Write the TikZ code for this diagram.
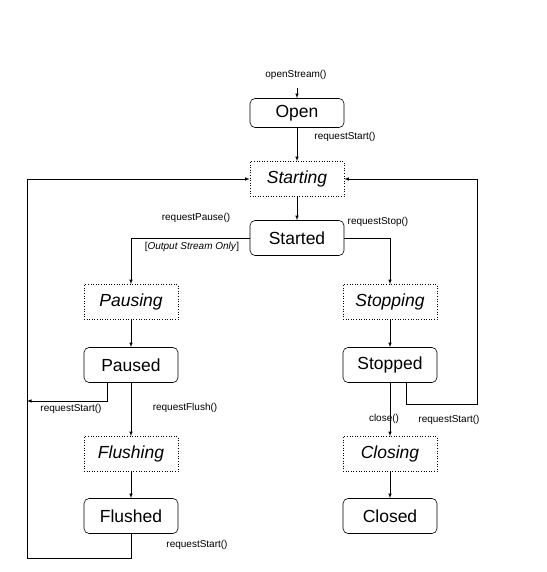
\documentclass[tikz,border=0pt]{standalone}
\usepackage{fontspec}
\setmainfont{Liberation Sans}
\begin{document}
\begin{tikzpicture}[>=latex, x=1pt, y=-1pt, line width=0.6pt]
    \useasboundingbox (0, 0) rectangle (546, 572);

    \tikzstyle{state} = [draw, rounded corners = 5pt, minimum width = 94pt, minimum height = 35pt, inner sep = 0pt, font = \fontsize{17.5}{20}\selectfont]
    \tikzstyle{trans} = [state, dotted, rounded corners = 0pt, font = \fontsize{17.5}{20}\selectfont\itshape]
    \tikzstyle{lbl} = [inner sep = 0pt, font = \fontsize{10}{12}\selectfont]

    \node[state, minimum height = 29pt] (open) at (297, 113) {Open};
    \node[trans] (starting) at (297, 179) {Starting};
    \node[state] (started) at (297, 238) {Started};

    \node[trans] (pausing) at (131, 302) {Pausing};
    \node[state] (paused) at (131, 365) {Paused};
    \node[trans] (flushing) at (131, 454) {Flushing};
    \node[state] (flushed) at (131, 516) {Flushed};

    \node[trans] (stopping) at (390, 302) {Stopping};
    \node[state] (stopped) at (390, 365) {Stopped};
    \node[trans] (closing) at (390, 454) {Closing};
    \node[state] (closed) at (390, 516) {Closed};

    \coordinate (entry) at (297, 88);
    \coordinate (lbend) at (27, 558);
    \coordinate (ljoin) at (27, 401);
    \coordinate (rbend) at (477, 404);

    \draw[->] (entry) -- (open);
    \draw[->] (open) -- (starting);
    \draw[->] (starting) -- (started);
    \draw[->] (started.west) -| (pausing.north);
    \draw[->] (started.east) -| (stopping.north);

    \draw[->] (pausing) -- (paused);
    \draw[->] (paused) -- (flushing);
    \draw[->] (flushing) -- (flushed);
    \draw[->] ([xshift = -24pt]paused.south) |- (ljoin);
    \draw[->] (flushed.south) |- (lbend) |- (starting.west);

    \draw[->] (stopping) -- (stopped);
    \draw[->] (stopped) -- (closing);
    \draw[->] (closing) -- (closed);
    \draw[->] ([xshift = 16pt]stopped.south) |- (rbend) |- (starting.east);

    % transition labels
    \node[lbl] at (296, 75) {openStream()};
    \node[lbl] at (345, 137) {requestStart()};
    \node[lbl] at (196, 218) {requestPause()};
    \node[lbl] at (192, 247) {[\textit{Output Stream Only}]};
    \node[lbl] at (378, 222) {requestStop()};
    \node[lbl] at (71, 409) {requestStart()};
    \node[lbl] at (185, 408) {requestFlush()};
    \node[lbl] at (197, 545) {requestStart()};
    \node[lbl] at (384, 419) {close()};
    \node[lbl] at (449, 420) {requestStart()};
\end{tikzpicture}
\end{document}
